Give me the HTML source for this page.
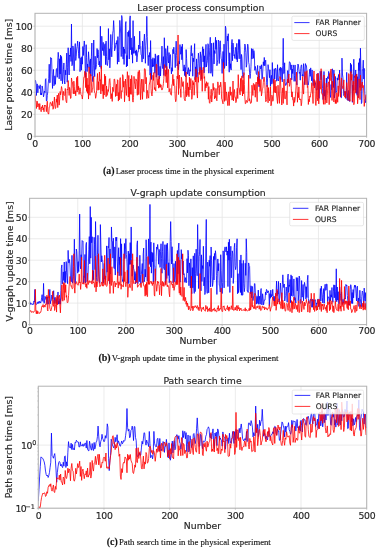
<!DOCTYPE html>
<html><head><meta charset="utf-8"><title>Figure</title><style>html,body{margin:0;padding:0;background:#fff;}svg{display:block;} svg text{stroke:#262626;stroke-width:0.15px;}</style></head><body>
<svg width="379" height="550" viewBox="0 0 379 550">
<rect width="379" height="550" fill="#fff"/>
<line x1="35.00" y1="13.3" x2="35.00" y2="136.3" stroke="#e6e6e6" stroke-width="0.8"/>
<line x1="82.37" y1="13.3" x2="82.37" y2="136.3" stroke="#e6e6e6" stroke-width="0.8"/>
<line x1="129.74" y1="13.3" x2="129.74" y2="136.3" stroke="#e6e6e6" stroke-width="0.8"/>
<line x1="177.11" y1="13.3" x2="177.11" y2="136.3" stroke="#e6e6e6" stroke-width="0.8"/>
<line x1="224.49" y1="13.3" x2="224.49" y2="136.3" stroke="#e6e6e6" stroke-width="0.8"/>
<line x1="271.86" y1="13.3" x2="271.86" y2="136.3" stroke="#e6e6e6" stroke-width="0.8"/>
<line x1="319.23" y1="13.3" x2="319.23" y2="136.3" stroke="#e6e6e6" stroke-width="0.8"/>
<line x1="366.60" y1="13.3" x2="366.60" y2="136.3" stroke="#e6e6e6" stroke-width="0.8"/>
<line x1="35.0" y1="136.30" x2="366.6" y2="136.30" stroke="#e6e6e6" stroke-width="0.8"/>
<line x1="35.0" y1="114.28" x2="366.6" y2="114.28" stroke="#e6e6e6" stroke-width="0.8"/>
<line x1="35.0" y1="92.26" x2="366.6" y2="92.26" stroke="#e6e6e6" stroke-width="0.8"/>
<line x1="35.0" y1="70.24" x2="366.6" y2="70.24" stroke="#e6e6e6" stroke-width="0.8"/>
<line x1="35.0" y1="48.22" x2="366.6" y2="48.22" stroke="#e6e6e6" stroke-width="0.8"/>
<line x1="35.0" y1="26.20" x2="366.6" y2="26.20" stroke="#e6e6e6" stroke-width="0.8"/>
<clipPath id="c1"><rect x="35.0" y="13.3" width="331.6" height="123.00000000000001"/></clipPath>
<g clip-path="url(#c1)" fill="none" stroke-width="0.8" stroke-linejoin="round">
<polyline points="35.00,83.72 35.47,80.27 35.95,82.74 36.42,95.49 36.89,83.96 37.37,84.05 37.84,92.81 38.32,86.13 38.79,85.78 39.26,86.22 39.74,88.70 40.21,84.80 40.68,94.90 41.16,93.01 41.63,95.02 42.11,85.95 42.58,88.27 43.05,92.06 43.53,96.81 44.00,94.33 44.47,91.03 44.95,92.59 45.42,79.59 45.90,78.66 46.37,100.85 46.84,100.97 47.32,95.37 47.79,91.83 48.26,83.13 48.74,78.69 49.21,64.23 49.69,82.91 50.16,82.59 50.63,57.48 51.11,58.67 51.58,58.19 52.05,74.32 52.53,88.43 53.00,75.37 53.47,69.42 53.95,85.79 54.42,84.30 54.90,75.82 55.37,84.35 55.84,76.17 56.32,69.57 56.79,68.49 57.26,77.29 57.74,60.93 58.21,52.31 58.69,57.68 59.16,78.90 59.63,58.82 60.11,74.07 60.58,54.99 61.05,80.84 61.53,56.45 62.00,64.41 62.48,83.74 62.95,77.99 63.42,69.69 63.90,62.98 64.37,80.32 64.84,84.00 65.32,70.18 65.79,74.93 66.27,64.66 66.74,53.10 67.21,82.19 67.69,67.58 68.16,47.76 68.63,63.08 69.11,74.98 69.58,55.03 70.05,56.30 70.53,47.94 71.00,61.46 71.48,24.00 71.95,65.73 72.42,64.76 72.90,45.95 73.37,49.07 73.84,70.33 74.32,70.83 74.79,48.92 75.27,43.57 75.74,60.51 76.21,56.58 76.69,48.76 77.16,46.30 77.63,41.04 78.11,46.62 78.58,53.77 79.06,58.36 79.53,41.89 80.00,71.65 80.48,64.57 80.95,57.72 81.42,70.21 81.90,56.71 82.37,64.18 82.85,46.53 83.32,55.54 83.79,47.41 84.27,40.95 84.74,47.22 85.21,68.57 85.69,77.37 86.16,44.67 86.63,57.67 87.11,71.62 87.58,63.96 88.06,67.36 88.53,51.77 89.00,59.30 89.48,62.01 89.95,73.55 90.42,58.92 90.90,76.16 91.37,56.73 91.85,43.00 92.32,76.39 92.79,81.67 93.27,65.70 93.74,40.00 94.21,65.99 94.69,76.66 95.16,56.23 95.64,69.40 96.11,67.66 96.58,64.26 97.06,48.46 97.53,57.81 98.00,49.79 98.48,54.68 98.95,65.00 99.43,61.31 99.90,67.00 100.37,26.20 100.85,67.48 101.32,68.81 101.79,36.22 102.27,47.03 102.74,50.74 103.21,42.33 103.69,55.16 104.16,55.68 104.64,44.72 105.11,43.70 105.58,64.65 106.06,41.08 106.53,56.70 107.00,65.23 107.48,65.52 107.95,60.50 108.43,28.55 108.90,59.83 109.37,48.79 109.85,67.89 110.32,57.61 110.79,34.48 111.27,46.87 111.74,56.83 112.22,45.22 112.69,33.23 113.16,30.53 113.64,20.58 114.11,29.91 114.58,50.84 115.06,48.80 115.53,47.03 116.01,42.90 116.48,44.14 116.95,40.42 117.43,64.20 117.90,36.62 118.37,51.79 118.85,61.97 119.32,37.81 119.79,20.36 120.27,25.93 120.74,33.96 121.22,56.59 121.69,15.53 122.16,18.34 122.64,54.46 123.11,59.09 123.58,46.92 124.06,64.49 124.53,49.20 125.01,53.51 125.48,24.11 125.95,21.57 126.43,66.95 126.90,55.50 127.37,66.06 127.85,32.08 128.32,36.53 128.80,30.62 129.27,59.04 129.74,19.23 130.22,15.92 130.69,49.85 131.16,37.90 131.64,54.57 132.11,47.51 132.59,63.16 133.06,20.62 133.53,53.35 134.01,52.05 134.48,36.32 134.95,53.35 135.43,50.98 135.90,55.49 136.37,49.81 136.85,61.92 137.32,57.17 137.80,51.65 138.27,51.89 138.74,45.00 139.22,49.14 139.69,31.18 140.16,45.39 140.64,46.16 141.11,54.95 141.59,55.15 142.06,62.08 142.53,40.99 143.01,59.11 143.48,58.61 143.95,41.33 144.43,34.10 144.90,46.84 145.38,63.31 145.85,45.39 146.32,37.60 146.80,16.29 147.27,36.67 147.74,55.79 148.22,65.62 148.69,55.35 149.17,57.05 149.64,52.50 150.11,75.14 150.59,40.57 151.06,64.69 151.53,79.48 152.01,59.19 152.48,66.90 152.95,57.75 153.43,66.47 153.90,64.41 154.38,58.44 154.85,73.21 155.32,53.87 155.80,68.11 156.27,77.19 156.74,66.40 157.22,55.63 157.69,64.24 158.17,75.33 158.64,55.11 159.11,79.21 159.59,77.82 160.06,66.38 160.53,75.97 161.01,65.15 161.48,61.12 161.96,46.10 162.43,66.97 162.90,68.73 163.38,56.61 163.85,75.51 164.32,37.72 164.80,57.72 165.27,67.70 165.75,48.57 166.22,55.59 166.69,74.39 167.17,56.36 167.64,45.82 168.11,60.80 168.59,63.00 169.06,52.55 169.53,68.56 170.01,55.38 170.48,54.59 170.96,66.51 171.43,73.90 171.90,67.69 172.38,71.24 172.85,49.38 173.32,53.80 173.80,47.18 174.27,53.22 174.75,53.54 175.22,67.58 175.69,52.57 176.17,41.17 176.64,55.44 177.11,65.96 177.59,63.52 178.06,66.75 178.54,69.78 179.01,61.24 179.48,64.05 179.96,44.56 180.43,54.25 180.90,53.77 181.38,46.66 181.85,59.78 182.33,44.14 182.80,63.12 183.27,71.09 183.75,68.75 184.22,64.86 184.69,75.65 185.17,67.42 185.64,77.01 186.11,49.56 186.59,58.57 187.06,69.22 187.54,74.15 188.01,70.83 188.48,67.67 188.96,75.23 189.43,76.00 189.90,69.72 190.38,71.28 190.85,51.56 191.33,45.53 191.80,55.86 192.27,53.45 192.75,76.24 193.22,58.05 193.69,61.73 194.17,55.11 194.64,43.66 195.12,79.92 195.59,66.86 196.06,77.03 196.54,58.90 197.01,77.37 197.48,74.20 197.96,63.28 198.43,53.15 198.91,58.17 199.38,72.33 199.85,72.86 200.33,51.89 200.80,58.78 201.27,78.96 201.75,55.97 202.22,53.32 202.69,46.68 203.17,61.86 203.64,48.88 204.12,72.86 204.59,55.83 205.06,67.25 205.54,52.04 206.01,44.36 206.48,66.91 206.96,63.44 207.43,60.80 207.91,43.71 208.38,44.77 208.85,73.20 209.33,57.11 209.80,47.45 210.27,37.31 210.75,73.26 211.22,71.55 211.70,43.17 212.17,73.22 212.64,76.34 213.12,57.46 213.59,42.76 214.06,63.97 214.54,50.64 215.01,53.50 215.49,37.24 215.96,49.29 216.43,40.38 216.91,65.76 217.38,62.45 217.85,59.82 218.33,40.03 218.80,41.83 219.27,63.54 219.75,46.54 220.22,40.79 220.70,52.22 221.17,58.41 221.64,59.00 222.12,73.42 222.59,59.97 223.06,51.43 223.54,65.65 224.01,44.16 224.49,68.47 224.96,65.19 225.43,26.20 225.91,28.52 226.38,65.93 226.85,47.01 227.33,36.10 227.80,40.91 228.28,33.74 228.75,61.68 229.22,72.20 229.70,52.80 230.17,68.48 230.64,63.71 231.12,70.07 231.59,44.27 232.07,39.44 232.54,60.75 233.01,43.10 233.49,49.39 233.96,55.74 234.43,54.68 234.91,58.57 235.38,47.36 235.85,48.76 236.33,59.44 236.80,43.37 237.28,62.00 237.75,54.49 238.22,50.46 238.70,39.44 239.17,58.86 239.64,39.60 240.12,48.89 240.59,59.46 241.07,69.62 241.54,54.42 242.01,58.23 242.49,74.74 242.96,77.74 243.43,74.97 243.91,75.22 244.38,50.85 244.86,44.05 245.33,46.04 245.80,52.38 246.28,67.22 246.75,64.51 247.22,52.02 247.70,44.14 248.17,46.68 248.65,62.44 249.12,64.43 249.59,72.89 250.07,78.49 250.54,73.55 251.01,66.36 251.49,48.53 251.96,59.05 252.43,50.69 252.91,48.81 253.38,58.35 253.86,50.59 254.33,54.03 254.80,70.29 255.28,66.38 255.75,68.94 256.22,73.51 256.70,74.57 257.17,70.36 257.65,65.38 258.12,81.09 258.59,75.37 259.07,86.94 259.54,75.72 260.01,65.89 260.49,68.91 260.96,68.38 261.44,64.78 261.91,79.23 262.38,78.42 262.86,68.90 263.33,61.80 263.80,65.51 264.28,57.45 264.75,65.83 265.23,62.04 265.70,60.16 266.17,70.58 266.65,82.53 267.12,86.86 267.59,78.12 268.07,64.64 268.54,68.69 269.01,71.13 269.49,77.73 269.96,69.78 270.44,86.38 270.91,78.14 271.38,75.29 271.86,84.12 272.33,62.55 272.80,81.08 273.28,83.01 273.75,83.43 274.23,68.71 274.70,79.15 275.17,70.06 275.65,68.13 276.12,69.92 276.59,81.22 277.07,80.35 277.54,64.69 278.02,79.92 278.49,80.94 278.96,77.56 279.44,68.57 279.91,70.13 280.38,67.16 280.86,79.53 281.33,68.28 281.81,67.77 282.28,81.88 282.75,65.46 283.23,38.31 283.70,73.67 284.17,73.30 284.65,62.81 285.12,82.43 285.59,85.44 286.07,85.16 286.54,82.97 287.02,81.74 287.49,70.86 287.96,70.53 288.44,82.87 288.91,71.94 289.38,61.73 289.86,62.13 290.33,62.94 290.81,69.71 291.28,64.88 291.75,79.82 292.23,69.06 292.70,73.56 293.17,64.90 293.65,67.16 294.12,81.37 294.60,75.62 295.07,64.94 295.54,80.94 296.02,81.06 296.49,82.33 296.96,84.92 297.44,70.67 297.91,64.02 298.39,64.98 298.86,69.14 299.33,73.45 299.81,72.11 300.28,80.18 300.75,68.59 301.23,65.14 301.70,64.93 302.17,76.07 302.65,74.50 303.12,76.26 303.60,63.64 304.07,68.83 304.54,84.72 305.02,75.88 305.49,63.59 305.96,65.66 306.44,65.65 306.91,71.40 307.39,85.03 307.86,85.49 308.33,85.17 308.81,80.83 309.28,74.32 309.75,69.16 310.23,76.32 310.70,67.87 311.18,75.30 311.65,80.85 312.12,69.93 312.60,80.98 313.07,85.63 313.54,85.17 314.02,79.41 314.49,85.64 314.97,83.89 315.44,82.59 315.91,88.06 316.39,90.29 316.86,89.19 317.33,89.59 317.81,73.25 318.28,76.97 318.75,97.19 319.23,98.33 319.70,82.91 320.18,71.22 320.65,76.16 321.12,79.78 321.60,71.13 322.07,79.99 322.54,88.59 323.02,99.52 323.49,96.81 323.97,71.47 324.44,96.17 324.91,90.09 325.39,99.88 325.86,90.98 326.33,78.03 326.81,87.32 327.28,78.70 327.76,76.70 328.23,78.72 328.70,71.39 329.18,73.68 329.65,85.90 330.12,94.42 330.60,97.44 331.07,84.54 331.55,89.78 332.02,69.13 332.49,68.91 332.97,78.74 333.44,87.58 333.91,70.13 334.39,97.93 334.86,94.52 335.33,76.45 335.81,92.71 336.28,92.36 336.76,90.87 337.23,77.85 337.70,80.20 338.18,77.51 338.65,74.45 339.12,80.01 339.60,70.07 340.07,87.50 340.55,96.23 341.02,97.43 341.49,97.69 341.97,58.13 342.44,74.02 342.91,77.51 343.39,88.89 343.86,95.61 344.34,93.37 344.81,91.32 345.28,92.44 345.76,98.43 346.23,94.68 346.70,72.36 347.18,99.81 347.65,93.75 348.13,100.78 348.60,90.49 349.07,94.97 349.55,101.42 350.02,91.83 350.49,63.08 350.97,73.21 351.44,64.62 351.91,77.28 352.39,102.33 352.86,85.05 353.34,90.44 353.81,59.23 354.28,77.52 354.76,76.21 355.23,90.10 355.70,69.97 356.18,93.45 356.65,74.28 357.13,95.34 357.60,76.66 358.07,97.54 358.55,62.74 359.02,70.39 359.49,58.56 359.97,87.50 360.44,48.22 360.92,68.50 361.39,103.55 361.86,102.31 362.34,70.98 362.81,68.49 363.28,60.18 363.76,79.07 364.23,68.40 364.71,90.01 365.18,100.66 365.65,102.69 366.13,98.03 366.60,94.77" stroke="#0000ff"/>
<polyline points="35.00,94.46 35.47,100.09 35.95,102.84 36.42,108.49 36.89,100.96 37.37,101.46 37.84,107.03 38.32,103.66 38.79,104.97 39.26,109.67 39.74,103.54 40.21,107.99 40.68,109.46 41.16,111.76 41.63,106.82 42.11,108.02 42.58,105.16 43.05,110.01 43.53,107.89 44.00,111.81 44.47,105.09 44.95,106.12 45.42,105.77 45.90,105.32 46.37,111.69 46.84,105.44 47.32,101.23 47.79,112.12 48.26,113.95 48.74,114.01 49.21,107.09 49.69,106.80 50.16,102.44 50.63,102.26 51.11,104.02 51.58,104.04 52.05,106.12 52.53,101.38 53.00,109.25 53.47,108.20 53.95,104.28 54.42,97.05 54.90,104.96 55.37,108.56 55.84,107.46 56.32,98.88 56.79,102.28 57.26,95.07 57.74,107.58 58.21,96.43 58.69,93.27 59.16,105.11 59.63,99.95 60.11,91.52 60.58,94.84 61.05,90.32 61.53,86.54 62.00,89.18 62.48,95.33 62.95,100.30 63.42,91.38 63.90,94.79 64.37,95.46 64.84,94.86 65.32,88.47 65.79,99.20 66.27,102.16 66.74,102.78 67.21,89.19 67.69,90.02 68.16,80.56 68.63,86.76 69.11,95.43 69.58,87.39 70.05,89.59 70.53,98.40 71.00,98.19 71.48,77.97 71.95,81.36 72.42,81.95 72.90,88.41 73.37,93.92 73.84,81.13 74.32,86.49 74.79,93.95 75.27,90.76 75.74,95.81 76.21,88.38 76.69,77.47 77.16,92.01 77.63,76.19 78.11,89.89 78.58,86.30 79.06,94.38 79.53,91.49 80.00,87.80 80.48,91.38 80.95,94.48 81.42,95.08 81.90,96.13 82.37,99.06 82.85,94.35 83.32,84.94 83.79,77.30 84.27,77.42 84.74,71.32 85.21,75.85 85.69,87.65 86.16,72.52 86.63,91.43 87.11,78.14 87.58,93.28 88.06,84.80 88.53,99.09 89.00,66.94 89.48,86.93 89.95,95.30 90.42,73.98 90.90,75.13 91.37,81.87 91.85,92.47 92.32,88.61 92.79,88.62 93.27,79.19 93.74,76.22 94.21,90.03 94.69,92.81 95.16,93.45 95.64,98.31 96.11,95.95 96.58,90.66 97.06,80.31 97.53,73.49 98.00,90.29 98.48,81.71 98.95,89.87 99.43,71.95 99.90,80.78 100.37,79.65 100.85,94.01 101.32,65.84 101.79,87.96 102.27,91.22 102.74,84.37 103.21,98.72 103.69,84.61 104.16,95.09 104.64,74.21 105.11,85.41 105.58,76.20 106.06,96.77 106.53,85.99 107.00,95.52 107.48,94.70 107.95,89.55 108.43,91.45 108.90,85.86 109.37,79.40 109.85,78.62 110.32,85.72 110.79,98.77 111.27,98.26 111.74,93.58 112.22,101.43 112.69,87.26 113.16,90.42 113.64,91.49 114.11,79.45 114.58,78.92 115.06,82.91 115.53,96.50 116.01,87.64 116.48,84.24 116.95,95.95 117.43,79.71 117.90,80.21 118.37,101.09 118.85,92.52 119.32,99.89 119.79,80.32 120.27,77.63 120.74,96.23 121.22,98.60 121.69,90.73 122.16,91.54 122.64,74.65 123.11,76.21 123.58,87.20 124.06,81.19 124.53,101.78 125.01,90.82 125.48,79.10 125.95,87.23 126.43,95.47 126.90,83.64 127.37,71.65 127.85,78.57 128.32,97.10 128.80,75.44 129.27,101.07 129.74,87.18 130.22,94.13 130.69,78.86 131.16,94.47 131.64,75.42 132.11,79.87 132.59,100.38 133.06,102.11 133.53,97.56 134.01,76.36 134.48,81.94 134.95,84.53 135.43,88.86 135.90,78.87 136.37,79.86 136.85,81.19 137.32,95.27 137.80,76.24 138.27,71.64 138.74,94.65 139.22,70.22 139.69,73.00 140.16,86.94 140.64,99.74 141.11,84.86 141.59,79.10 142.06,90.32 142.53,99.29 143.01,79.22 143.48,90.07 143.95,91.73 144.43,68.80 144.90,68.61 145.38,70.10 145.85,83.87 146.32,77.41 146.80,98.63 147.27,90.29 147.74,93.65 148.22,97.05 148.69,98.16 149.17,85.06 149.64,82.90 150.11,81.14 150.59,73.18 151.06,88.67 151.53,94.23 152.01,95.97 152.48,91.10 152.95,75.27 153.43,80.41 153.90,72.44 154.38,89.60 154.85,87.40 155.32,88.70 155.80,91.14 156.27,64.14 156.74,64.54 157.22,80.88 157.69,84.95 158.17,79.20 158.64,88.16 159.11,76.21 159.59,87.34 160.06,83.87 160.53,87.30 161.01,84.85 161.48,88.91 161.96,90.10 162.43,89.08 162.90,87.27 163.38,83.64 163.85,78.60 164.32,64.52 164.80,65.93 165.27,76.31 165.75,69.98 166.22,82.67 166.69,66.31 167.17,68.97 167.64,87.83 168.11,73.91 168.59,69.43 169.06,91.88 169.53,90.15 170.01,88.52 170.48,94.28 170.96,94.72 171.43,95.18 171.90,85.04 172.38,83.91 172.85,74.44 173.32,85.75 173.80,79.16 174.27,85.12 174.75,85.49 175.22,98.14 175.69,101.74 176.17,100.01 176.64,85.77 177.11,76.13 177.59,78.82 178.06,35.01 178.54,94.59 179.01,76.85 179.48,75.03 179.96,88.52 180.43,88.87 180.90,97.39 181.38,77.28 181.85,80.31 182.33,86.50 182.80,83.04 183.27,81.62 183.75,90.18 184.22,98.56 184.69,99.86 185.17,100.85 185.64,89.49 186.11,71.88 186.59,96.73 187.06,88.82 187.54,82.77 188.01,95.27 188.48,87.20 188.96,96.74 189.43,77.20 189.90,89.92 190.38,86.11 190.85,78.49 191.33,88.44 191.80,99.32 192.27,96.05 192.75,80.58 193.22,84.93 193.69,82.52 194.17,95.20 194.64,87.00 195.12,77.36 195.59,82.01 196.06,68.90 196.54,79.92 197.01,93.71 197.48,98.05 197.96,77.13 198.43,82.28 198.91,72.35 199.38,74.58 199.85,67.50 200.33,67.39 200.80,80.65 201.27,78.61 201.75,70.03 202.22,91.33 202.69,69.58 203.17,67.11 203.64,67.47 204.12,78.46 204.59,76.63 205.06,91.19 205.54,83.62 206.01,87.89 206.48,81.67 206.96,86.19 207.43,84.71 207.91,82.65 208.38,99.23 208.85,86.55 209.33,102.44 209.80,103.32 210.27,99.33 210.75,94.65 211.22,89.18 211.70,102.04 212.17,96.80 212.64,92.79 213.12,83.30 213.59,90.28 214.06,87.53 214.54,98.94 215.01,96.37 215.49,97.54 215.96,88.41 216.43,99.35 216.91,100.78 217.38,90.93 217.85,81.89 218.33,85.80 218.80,88.38 219.27,94.78 219.75,85.44 220.22,86.67 220.70,82.10 221.17,86.31 221.64,98.92 222.12,99.71 222.59,102.29 223.06,103.86 223.54,62.53 224.01,84.81 224.49,101.38 224.96,82.04 225.43,87.05 225.91,100.55 226.38,91.92 226.85,93.63 227.33,100.40 227.80,105.63 228.28,98.86 228.75,91.75 229.22,105.57 229.70,94.69 230.17,86.82 230.64,95.34 231.12,91.91 231.59,94.79 232.07,100.13 232.54,97.85 233.01,81.01 233.49,100.90 233.96,92.25 234.43,89.49 234.91,97.40 235.38,97.17 235.85,102.67 236.33,101.64 236.80,94.66 237.28,88.26 237.75,98.56 238.22,74.65 238.70,87.30 239.17,87.89 239.64,92.00 240.12,94.91 240.59,78.47 241.07,91.34 241.54,77.31 242.01,75.87 242.49,95.99 242.96,80.18 243.43,93.90 243.91,72.58 244.38,84.56 244.86,97.90 245.33,103.78 245.80,103.41 246.28,100.33 246.75,101.35 247.22,102.55 247.70,100.41 248.17,95.15 248.65,75.02 249.12,101.12 249.59,98.68 250.07,100.75 250.54,103.38 251.01,103.28 251.49,102.01 251.96,85.20 252.43,90.13 252.91,95.51 253.38,83.42 253.86,83.80 254.33,90.20 254.80,84.61 255.28,97.24 255.75,84.03 256.22,82.01 256.70,92.09 257.17,101.68 257.65,76.97 258.12,84.02 258.59,71.52 259.07,85.72 259.54,78.80 260.01,91.41 260.49,87.02 260.96,79.40 261.44,95.90 261.91,92.90 262.38,88.77 262.86,88.13 263.33,82.29 263.80,77.08 264.28,77.27 264.75,82.62 265.23,92.06 265.70,101.78 266.17,101.24 266.65,99.50 267.12,85.11 267.59,93.19 268.07,102.77 268.54,87.59 269.01,98.64 269.49,100.80 269.96,96.64 270.44,86.77 270.91,105.80 271.38,105.00 271.86,95.16 272.33,96.37 272.80,101.26 273.28,100.01 273.75,78.90 274.23,92.44 274.70,83.16 275.17,80.18 275.65,92.94 276.12,86.25 276.59,94.98 277.07,98.94 277.54,103.50 278.02,85.21 278.49,94.02 278.96,98.09 279.44,103.36 279.91,76.61 280.38,78.21 280.86,88.06 281.33,98.01 281.81,105.01 282.28,93.44 282.75,87.86 283.23,103.45 283.70,81.52 284.17,79.11 284.65,98.22 285.12,99.10 285.59,98.11 286.07,90.88 286.54,92.37 287.02,104.87 287.49,79.06 287.96,82.76 288.44,75.39 288.91,74.09 289.38,86.37 289.86,84.67 290.33,79.74 290.81,78.15 291.28,88.20 291.75,97.06 292.23,91.80 292.70,99.71 293.17,99.38 293.65,106.08 294.12,97.23 294.60,102.49 295.07,100.31 295.54,94.03 296.02,86.93 296.49,72.13 296.96,79.83 297.44,102.25 297.91,92.58 298.39,97.77 298.86,86.91 299.33,97.34 299.81,100.01 300.28,98.91 300.75,99.67 301.23,105.79 301.70,102.93 302.17,94.64 302.65,76.36 303.12,88.91 303.60,94.08 304.07,82.93 304.54,80.31 305.02,71.53 305.49,75.63 305.96,84.78 306.44,73.22 306.91,70.73 307.39,87.49 307.86,86.36 308.33,104.49 308.81,99.36 309.28,101.78 309.75,96.17 310.23,97.21 310.70,93.72 311.18,91.72 311.65,82.81 312.12,83.71 312.60,94.82 313.07,103.53 313.54,77.94 314.02,71.00 314.49,87.97 314.97,80.62 315.44,103.12 315.91,105.51 316.39,99.30 316.86,73.88 317.33,97.47 317.81,100.92 318.28,73.30 318.75,103.93 319.23,85.91 319.70,81.15 320.18,89.29 320.65,86.22 321.12,68.70 321.60,93.17 322.07,94.31 322.54,93.68 323.02,98.76 323.49,104.29 323.97,75.02 324.44,81.20 324.91,104.34 325.39,102.05 325.86,88.12 326.33,83.06 326.81,102.94 327.28,95.32 327.76,87.28 328.23,83.01 328.70,81.78 329.18,104.65 329.65,73.47 330.12,80.67 330.60,70.39 331.07,68.96 331.55,77.71 332.02,100.46 332.49,81.28 332.97,89.14 333.44,95.04 333.91,102.03 334.39,73.77 334.86,89.64 335.33,103.53 335.81,99.60 336.28,103.57 336.76,92.73 337.23,95.65 337.70,102.32 338.18,85.86 338.65,96.51 339.12,81.78 339.60,73.41 340.07,88.29 340.55,97.16 341.02,89.07 341.49,77.94 341.97,85.62 342.44,86.26 342.91,88.74 343.39,84.90 343.86,79.88 344.34,95.63 344.81,97.25 345.28,91.29 345.76,98.12 346.23,90.39 346.70,82.55 347.18,87.59 347.65,96.56 348.13,100.40 348.60,73.60 349.07,74.60 349.55,98.32 350.02,101.33 350.49,73.19 350.97,71.50 351.44,80.23 351.91,74.35 352.39,101.47 352.86,93.73 353.34,81.19 353.81,104.72 354.28,102.90 354.76,84.29 355.23,75.38 355.70,92.69 356.18,87.11 356.65,73.93 357.13,89.02 357.60,103.79 358.07,96.61 358.55,97.69 359.02,78.87 359.49,85.56 359.97,99.57 360.44,75.14 360.92,90.53 361.39,86.50 361.86,83.52 362.34,82.03 362.81,87.79 363.28,85.43 363.76,92.19 364.23,106.41 364.71,101.33 365.18,99.08 365.65,98.29 366.13,94.67 366.60,101.91" stroke="#ff0000"/>
</g>
<rect x="35.0" y="13.3" width="331.6" height="123.00000000000001" fill="none" stroke="#b3b3b3" stroke-width="1"/>
<line x1="35.00" y1="136.3" x2="35.00" y2="137.8" stroke="#b3b3b3" stroke-width="0.8"/>
<text x="35.15" y="146.90" font-size="9.3" text-anchor="middle" font-family="'DejaVu Sans', 'Liberation Sans', sans-serif" fill="#262626" letter-spacing="-0.3">0</text>
<line x1="82.37" y1="136.3" x2="82.37" y2="137.8" stroke="#b3b3b3" stroke-width="0.8"/>
<text x="82.52" y="146.90" font-size="9.3" text-anchor="middle" font-family="'DejaVu Sans', 'Liberation Sans', sans-serif" fill="#262626" letter-spacing="-0.3">100</text>
<line x1="129.74" y1="136.3" x2="129.74" y2="137.8" stroke="#b3b3b3" stroke-width="0.8"/>
<text x="129.89" y="146.90" font-size="9.3" text-anchor="middle" font-family="'DejaVu Sans', 'Liberation Sans', sans-serif" fill="#262626" letter-spacing="-0.3">200</text>
<line x1="177.11" y1="136.3" x2="177.11" y2="137.8" stroke="#b3b3b3" stroke-width="0.8"/>
<text x="177.26" y="146.90" font-size="9.3" text-anchor="middle" font-family="'DejaVu Sans', 'Liberation Sans', sans-serif" fill="#262626" letter-spacing="-0.3">300</text>
<line x1="224.49" y1="136.3" x2="224.49" y2="137.8" stroke="#b3b3b3" stroke-width="0.8"/>
<text x="224.64" y="146.90" font-size="9.3" text-anchor="middle" font-family="'DejaVu Sans', 'Liberation Sans', sans-serif" fill="#262626" letter-spacing="-0.3">400</text>
<line x1="271.86" y1="136.3" x2="271.86" y2="137.8" stroke="#b3b3b3" stroke-width="0.8"/>
<text x="272.01" y="146.90" font-size="9.3" text-anchor="middle" font-family="'DejaVu Sans', 'Liberation Sans', sans-serif" fill="#262626" letter-spacing="-0.3">500</text>
<line x1="319.23" y1="136.3" x2="319.23" y2="137.8" stroke="#b3b3b3" stroke-width="0.8"/>
<text x="319.38" y="146.90" font-size="9.3" text-anchor="middle" font-family="'DejaVu Sans', 'Liberation Sans', sans-serif" fill="#262626" letter-spacing="-0.3">600</text>
<line x1="366.60" y1="136.3" x2="366.60" y2="137.8" stroke="#b3b3b3" stroke-width="0.8"/>
<text x="366.75" y="146.90" font-size="9.3" text-anchor="middle" font-family="'DejaVu Sans', 'Liberation Sans', sans-serif" fill="#262626" letter-spacing="-0.3">700</text>
<line x1="33.5" y1="136.30" x2="35.0" y2="136.30" stroke="#b3b3b3" stroke-width="0.8"/>
<text x="32.3" y="139.70" font-size="9.3" text-anchor="end" font-family="'DejaVu Sans', 'Liberation Sans', sans-serif" fill="#262626" letter-spacing="-0.3">0</text>
<line x1="33.5" y1="114.28" x2="35.0" y2="114.28" stroke="#b3b3b3" stroke-width="0.8"/>
<text x="32.3" y="117.68" font-size="9.3" text-anchor="end" font-family="'DejaVu Sans', 'Liberation Sans', sans-serif" fill="#262626" letter-spacing="-0.3">20</text>
<line x1="33.5" y1="92.26" x2="35.0" y2="92.26" stroke="#b3b3b3" stroke-width="0.8"/>
<text x="32.3" y="95.66" font-size="9.3" text-anchor="end" font-family="'DejaVu Sans', 'Liberation Sans', sans-serif" fill="#262626" letter-spacing="-0.3">40</text>
<line x1="33.5" y1="70.24" x2="35.0" y2="70.24" stroke="#b3b3b3" stroke-width="0.8"/>
<text x="32.3" y="73.64" font-size="9.3" text-anchor="end" font-family="'DejaVu Sans', 'Liberation Sans', sans-serif" fill="#262626" letter-spacing="-0.3">60</text>
<line x1="33.5" y1="48.22" x2="35.0" y2="48.22" stroke="#b3b3b3" stroke-width="0.8"/>
<text x="32.3" y="51.62" font-size="9.3" text-anchor="end" font-family="'DejaVu Sans', 'Liberation Sans', sans-serif" fill="#262626" letter-spacing="-0.3">80</text>
<line x1="33.5" y1="26.20" x2="35.0" y2="26.20" stroke="#b3b3b3" stroke-width="0.8"/>
<text x="32.3" y="29.60" font-size="9.3" text-anchor="end" font-family="'DejaVu Sans', 'Liberation Sans', sans-serif" fill="#262626" letter-spacing="-0.3">100</text>
<text x="200.80" y="10.70" font-size="9.3" text-anchor="middle" font-family="'DejaVu Sans', 'Liberation Sans', sans-serif" fill="#262626" >Laser process consumption</text>
<text x="200.80" y="156.90" font-size="9.3" text-anchor="middle" font-family="'DejaVu Sans', 'Liberation Sans', sans-serif" fill="#262626" >Number</text>
<text x="0" y="0" font-size="9.3" text-anchor="middle" font-family="'DejaVu Sans', 'Liberation Sans', sans-serif" fill="#262626" transform="translate(12.00,74.80) rotate(-90)">Laser process time [ms]</text>
<rect x="291.9" y="16.2" width="72.40000000000003" height="24.2" rx="1.5" fill="#ffffff" fill-opacity="0.8" stroke="#d9d9d9" stroke-width="0.6"/>
<line x1="294.3" y1="22.6" x2="309.5" y2="22.6" stroke="#0000ff" stroke-width="0.8"/>
<line x1="294.3" y1="33.6" x2="309.5" y2="33.6" stroke="#ff0000" stroke-width="0.8"/>
<text x="315.60" y="25.40" font-size="7.6" text-anchor="start" font-family="'DejaVu Sans', 'Liberation Sans', sans-serif" fill="#262626" >FAR Planner</text>
<text x="315.60" y="36.40" font-size="7.6" text-anchor="start" font-family="'DejaVu Sans', 'Liberation Sans', sans-serif" fill="#262626" >OURS</text>
<text x="103.00" y="173.50" font-size="9.1" text-anchor="start" font-family="'Liberation Serif', serif" fill="#111" textLength="171.2" lengthAdjust="spacingAndGlyphs"><tspan font-weight="bold" font-size="10.4">(a)</tspan><tspan dx="1.2">Laser process time in the physical experiment</tspan></text>
<line x1="29.60" y1="198.3" x2="29.60" y2="324.6" stroke="#e6e6e6" stroke-width="0.8"/>
<line x1="77.74" y1="198.3" x2="77.74" y2="324.6" stroke="#e6e6e6" stroke-width="0.8"/>
<line x1="125.89" y1="198.3" x2="125.89" y2="324.6" stroke="#e6e6e6" stroke-width="0.8"/>
<line x1="174.03" y1="198.3" x2="174.03" y2="324.6" stroke="#e6e6e6" stroke-width="0.8"/>
<line x1="222.17" y1="198.3" x2="222.17" y2="324.6" stroke="#e6e6e6" stroke-width="0.8"/>
<line x1="270.31" y1="198.3" x2="270.31" y2="324.6" stroke="#e6e6e6" stroke-width="0.8"/>
<line x1="318.46" y1="198.3" x2="318.46" y2="324.6" stroke="#e6e6e6" stroke-width="0.8"/>
<line x1="366.60" y1="198.3" x2="366.60" y2="324.6" stroke="#e6e6e6" stroke-width="0.8"/>
<line x1="29.6" y1="324.60" x2="366.6" y2="324.60" stroke="#e6e6e6" stroke-width="0.8"/>
<line x1="29.6" y1="303.14" x2="366.6" y2="303.14" stroke="#e6e6e6" stroke-width="0.8"/>
<line x1="29.6" y1="281.68" x2="366.6" y2="281.68" stroke="#e6e6e6" stroke-width="0.8"/>
<line x1="29.6" y1="260.22" x2="366.6" y2="260.22" stroke="#e6e6e6" stroke-width="0.8"/>
<line x1="29.6" y1="238.76" x2="366.6" y2="238.76" stroke="#e6e6e6" stroke-width="0.8"/>
<line x1="29.6" y1="217.30" x2="366.6" y2="217.30" stroke="#e6e6e6" stroke-width="0.8"/>
<clipPath id="c2"><rect x="29.6" y="198.3" width="337.0" height="126.30000000000001"/></clipPath>
<g clip-path="url(#c2)" fill="none" stroke-width="0.8" stroke-linejoin="round">
<polyline points="29.60,301.02 30.08,304.64 30.56,302.82 31.04,304.06 31.53,304.01 32.01,303.65 32.49,304.64 32.97,303.91 33.45,304.39 33.93,300.99 34.41,302.14 34.90,289.41 35.38,303.73 35.86,304.22 36.34,304.50 36.82,304.00 37.30,302.35 37.78,303.53 38.27,301.57 38.75,303.38 39.23,303.15 39.71,301.13 40.19,301.89 40.67,303.09 41.15,301.42 41.64,297.72 42.12,294.65 42.60,300.69 43.08,301.53 43.56,283.40 44.04,303.30 44.52,302.03 45.01,296.39 45.49,297.07 45.97,299.53 46.45,296.99 46.93,304.21 47.41,296.75 47.89,303.50 48.38,304.17 48.86,299.82 49.34,296.89 49.82,289.41 50.30,303.83 50.78,300.76 51.26,300.64 51.75,295.09 52.23,296.25 52.71,298.88 53.19,295.55 53.67,290.69 54.15,303.58 54.63,297.85 55.12,297.21 55.60,301.08 56.08,303.32 56.56,299.57 57.04,304.21 57.52,298.08 58.00,291.98 58.49,304.13 58.97,300.82 59.45,303.65 59.93,298.68 60.41,304.20 60.89,290.44 61.37,268.25 61.86,264.92 62.34,283.80 62.82,281.32 63.30,271.93 63.78,280.48 64.26,262.01 64.74,282.69 65.23,271.36 65.71,282.61 66.19,261.59 66.67,272.71 67.15,278.18 67.63,283.71 68.11,250.35 68.60,262.70 69.08,262.97 69.56,259.51 70.04,266.02 70.52,279.68 71.00,281.53 71.48,281.62 71.97,255.34 72.45,283.18 72.93,280.32 73.41,276.61 73.89,266.78 74.37,239.19 74.85,282.69 75.34,283.71 75.82,272.35 76.30,249.04 76.78,251.71 77.26,261.34 77.74,273.15 78.22,261.53 78.71,271.63 79.19,250.83 79.67,214.08 80.15,265.37 80.63,268.87 81.11,254.69 81.59,260.02 82.08,240.58 82.56,241.12 83.04,241.10 83.52,283.14 84.00,275.87 84.48,277.61 84.96,254.48 85.45,283.05 85.93,245.19 86.41,242.42 86.89,281.49 87.37,281.00 87.85,279.68 88.33,265.51 88.82,249.22 89.30,236.60 89.78,263.83 90.26,206.57 90.74,258.17 91.22,217.30 91.70,242.80 92.19,236.78 92.67,280.59 93.15,270.90 93.63,279.77 94.11,237.27 94.59,244.89 95.07,269.63 95.56,221.59 96.04,252.92 96.52,277.62 97.00,281.13 97.48,254.42 97.96,235.28 98.44,264.23 98.93,276.15 99.41,282.45 99.89,283.18 100.37,224.60 100.85,243.99 101.33,261.98 101.81,255.74 102.30,260.70 102.78,260.63 103.26,283.29 103.74,277.05 104.22,263.36 104.70,279.22 105.18,276.25 105.67,280.20 106.15,274.01 106.63,245.91 107.11,272.19 107.59,269.23 108.07,246.34 108.55,247.70 109.04,237.53 109.52,283.71 110.00,248.95 110.48,274.01 110.96,262.60 111.44,226.96 111.92,241.32 112.41,241.47 112.89,258.17 113.37,238.20 113.85,267.84 114.33,268.62 114.81,246.88 115.29,275.07 115.78,237.27 116.26,240.92 116.74,237.18 117.22,259.99 117.70,273.10 118.18,261.83 118.66,247.70 119.15,275.76 119.63,256.95 120.11,264.72 120.59,238.65 121.07,275.59 121.55,243.84 122.03,276.29 122.52,281.38 123.00,279.69 123.48,282.68 123.96,264.73 124.44,243.48 124.92,258.60 125.40,249.85 125.89,238.63 126.37,254.50 126.85,259.36 127.33,270.98 127.81,283.49 128.29,251.09 128.77,283.56 129.26,253.61 129.74,264.50 130.22,242.61 130.70,264.25 131.18,226.96 131.66,258.59 132.14,276.20 132.63,270.71 133.11,264.95 133.59,268.50 134.07,270.04 134.55,280.14 135.03,271.58 135.51,283.79 136.00,273.53 136.48,282.56 136.96,244.54 137.44,240.85 137.92,283.66 138.40,266.37 138.88,268.54 139.37,281.71 139.85,255.28 140.33,274.40 140.81,283.66 141.29,274.90 141.77,269.97 142.25,263.50 142.74,282.52 143.22,253.87 143.70,248.09 144.18,281.77 144.66,279.32 145.14,269.24 145.62,277.04 146.11,239.73 146.59,256.64 147.07,281.17 147.55,280.48 148.03,269.06 148.51,238.89 148.99,264.56 149.48,263.08 149.96,204.42 150.44,266.75 150.92,242.08 151.40,273.15 151.88,251.94 152.36,261.78 152.85,253.12 153.33,282.15 153.81,242.85 154.29,265.93 154.77,266.04 155.25,281.05 155.73,280.17 156.22,256.13 156.70,246.98 157.18,249.31 157.66,244.44 158.14,249.44 158.62,264.23 159.10,249.32 159.59,252.10 160.07,267.45 160.55,251.26 161.03,243.75 161.51,258.27 161.99,273.23 162.47,251.78 162.96,241.42 163.44,266.92 163.92,268.66 164.40,269.73 164.88,244.68 165.36,283.44 165.84,262.05 166.33,244.63 166.81,278.49 167.29,243.13 167.77,251.76 168.25,275.54 168.73,262.76 169.21,282.78 169.70,278.48 170.18,241.76 170.66,221.59 171.14,241.71 171.62,263.96 172.10,246.72 172.58,262.80 173.07,282.78 173.55,278.88 174.03,263.55 174.51,281.22 174.99,282.20 175.47,261.22 175.95,277.12 176.44,282.57 176.92,279.50 177.40,250.45 177.88,273.88 178.36,248.80 178.84,243.06 179.32,262.13 179.81,281.12 180.29,282.12 180.77,269.88 181.25,249.64 181.73,258.87 182.21,254.39 182.69,273.87 183.18,261.00 183.66,274.85 184.14,273.69 184.62,281.93 185.10,282.53 185.58,277.63 186.06,281.43 186.55,282.61 187.03,258.68 187.51,272.89 187.99,250.22 188.47,255.34 188.95,285.72 189.43,262.90 189.92,268.29 190.40,287.89 190.88,258.87 191.36,288.58 191.84,293.70 192.32,267.65 192.80,287.92 193.29,255.85 193.77,287.43 194.25,293.38 194.73,253.29 195.21,291.62 195.69,273.30 196.17,249.18 196.66,268.10 197.14,275.77 197.62,224.60 198.10,251.49 198.58,288.56 199.06,256.50 199.54,254.34 200.03,239.44 200.51,275.23 200.99,290.90 201.47,254.85 201.95,281.46 202.43,265.60 202.91,268.56 203.40,246.24 203.88,285.86 204.36,277.30 204.84,294.55 205.32,292.67 205.80,245.37 206.28,219.45 206.77,289.33 207.25,293.38 207.73,262.12 208.21,268.29 208.69,292.84 209.17,260.22 209.65,266.29 210.14,255.64 210.62,286.90 211.10,246.99 211.58,260.57 212.06,276.67 212.54,286.47 213.02,282.29 213.51,256.42 213.99,280.04 214.47,253.48 214.95,259.70 215.43,250.72 215.91,255.59 216.39,275.42 216.88,294.44 217.36,273.85 217.84,258.93 218.32,270.88 218.80,263.45 219.28,285.34 219.76,285.54 220.25,292.07 220.73,254.69 221.21,270.81 221.69,286.14 222.17,293.51 222.65,282.47 223.13,250.84 223.62,260.94 224.10,287.86 224.58,248.88 225.06,246.90 225.54,249.47 226.02,252.02 226.50,246.84 226.99,255.20 227.47,251.03 227.95,286.57 228.43,242.26 228.91,260.21 229.39,239.28 229.87,292.47 230.36,256.61 230.84,246.22 231.32,277.82 231.80,259.44 232.28,250.83 232.76,253.89 233.24,283.48 233.73,277.16 234.21,247.56 234.69,243.31 235.17,265.65 235.65,269.69 236.13,266.64 236.61,247.28 237.10,238.76 237.58,293.75 238.06,273.65 238.54,292.63 239.02,288.67 239.50,273.04 239.98,259.97 240.47,292.52 240.95,254.95 241.43,295.21 241.91,263.41 242.39,295.21 242.87,295.07 243.35,260.41 243.84,283.65 244.32,291.68 244.80,287.36 245.28,263.22 245.76,275.41 246.24,238.76 246.72,252.53 247.21,291.06 247.69,290.87 248.17,292.50 248.65,262.93 249.13,265.81 249.61,266.53 250.09,287.31 250.58,293.76 251.06,285.80 251.54,297.87 252.02,286.51 252.50,286.68 252.98,300.59 253.46,296.78 253.95,296.80 254.43,283.76 254.91,283.55 255.39,293.94 255.87,295.65 256.35,304.09 256.83,296.44 257.32,296.50 257.80,303.49 258.28,290.08 258.76,304.31 259.24,300.27 259.72,296.12 260.20,304.28 260.69,290.63 261.17,288.50 261.65,304.61 262.13,304.96 262.61,293.75 263.09,298.02 263.57,304.87 264.06,301.84 264.54,299.91 265.02,300.11 265.50,292.09 265.98,294.87 266.46,289.39 266.94,289.94 267.43,292.77 267.91,291.41 268.39,290.84 268.87,293.29 269.35,305.69 269.83,293.65 270.31,298.30 270.80,290.13 271.28,297.10 271.76,294.51 272.24,295.75 272.72,289.41 273.20,295.81 273.68,300.78 274.17,296.14 274.65,301.86 275.13,297.41 275.61,298.35 276.09,293.67 276.57,281.08 277.05,295.82 277.54,291.01 278.02,294.18 278.50,281.40 278.98,301.97 279.46,300.46 279.94,293.06 280.42,283.00 280.91,291.14 281.39,297.89 281.87,301.12 282.35,284.67 282.83,274.83 283.31,283.91 283.79,287.54 284.28,283.97 284.76,301.01 285.24,296.80 285.72,295.66 286.20,287.08 286.68,291.34 287.16,302.27 287.65,277.63 288.13,274.06 288.61,292.53 289.09,285.12 289.57,286.42 290.05,279.46 290.53,302.65 291.02,274.87 291.50,295.82 291.98,275.99 292.46,288.04 292.94,296.42 293.42,293.89 293.90,278.91 294.39,300.29 294.87,297.48 295.35,298.28 295.83,303.02 296.31,277.52 296.79,281.72 297.27,291.03 297.76,277.64 298.24,300.81 298.72,294.16 299.20,276.02 299.68,278.31 300.16,303.11 300.64,303.14 301.13,302.69 301.61,280.56 302.09,297.17 302.57,295.78 303.05,284.50 303.53,300.88 304.01,290.80 304.50,282.40 304.98,285.36 305.46,286.68 305.94,299.10 306.42,286.77 306.90,297.53 307.38,279.93 307.87,275.24 308.35,298.48 308.83,303.12 309.31,303.27 309.79,302.38 310.27,299.34 310.75,299.10 311.24,306.65 311.72,307.10 312.20,299.11 312.68,307.29 313.16,299.57 313.64,304.61 314.12,300.37 314.61,300.26 315.09,300.00 315.57,299.83 316.05,307.17 316.53,302.92 317.01,303.81 317.49,302.38 317.98,298.95 318.46,304.69 318.94,306.81 319.42,304.18 319.90,298.93 320.38,288.47 320.86,301.18 321.35,286.09 321.83,291.36 322.31,297.31 322.79,302.98 323.27,294.40 323.75,288.62 324.23,303.34 324.72,286.45 325.20,284.23 325.68,290.34 326.16,290.07 326.64,283.86 327.12,284.71 327.60,301.65 328.09,296.68 328.57,297.44 329.05,297.47 329.53,303.84 330.01,290.39 330.49,300.92 330.97,294.75 331.46,297.18 331.94,287.56 332.42,298.05 332.90,302.31 333.38,291.15 333.86,284.81 334.34,297.81 334.83,285.09 335.31,291.75 335.79,300.62 336.27,268.80 336.75,301.83 337.23,287.03 337.71,300.05 338.20,291.70 338.68,303.86 339.16,303.27 339.64,286.91 340.12,293.11 340.60,295.56 341.08,300.48 341.57,291.87 342.05,304.36 342.53,304.25 343.01,299.30 343.49,303.21 343.97,302.91 344.45,298.07 344.94,298.11 345.42,298.99 345.90,284.43 346.38,285.85 346.86,285.16 347.34,295.39 347.82,301.35 348.31,304.97 348.79,301.44 349.27,305.27 349.75,303.38 350.23,289.46 350.71,284.71 351.19,286.52 351.68,303.45 352.16,292.53 352.64,303.59 353.12,289.55 353.60,297.89 354.08,288.93 354.56,285.15 355.05,287.18 355.53,285.41 356.01,293.29 356.49,300.93 356.97,287.18 357.45,286.16 357.93,301.90 358.42,297.97 358.90,306.41 359.38,301.93 359.86,290.26 360.34,298.77 360.82,303.88 361.30,306.81 361.79,296.64 362.27,291.06 362.75,292.29 363.23,295.85 363.71,306.89 364.19,288.09 364.67,298.44 365.16,301.02 365.64,292.60 366.12,307.77 366.60,302.58" stroke="#0000ff"/>
<polyline points="29.60,312.02 30.08,311.76 30.56,310.56 31.04,310.80 31.53,312.41 32.01,311.75 32.49,312.04 32.97,311.50 33.45,312.46 33.93,311.58 34.41,311.33 34.90,310.56 35.38,289.41 35.86,311.27 36.34,313.75 36.82,310.53 37.30,313.84 37.78,311.23 38.27,312.50 38.75,313.41 39.23,313.34 39.71,313.34 40.19,311.96 40.67,312.36 41.15,310.71 41.64,307.16 42.12,305.88 42.60,306.72 43.08,304.51 43.56,307.33 44.04,306.48 44.52,305.30 45.01,307.13 45.49,304.37 45.97,304.90 46.45,299.84 46.93,295.23 47.41,309.70 47.89,310.96 48.38,289.41 48.86,298.18 49.34,296.18 49.82,308.01 50.30,309.46 50.78,310.92 51.26,309.88 51.75,307.05 52.23,305.52 52.71,291.34 53.19,304.58 53.67,306.36 54.15,300.27 54.63,310.53 55.12,308.25 55.60,304.52 56.08,297.59 56.56,312.08 57.04,295.39 57.52,304.77 58.00,302.41 58.49,296.81 58.97,297.06 59.45,295.00 59.93,306.31 60.41,312.85 60.89,301.15 61.37,299.25 61.86,285.05 62.34,296.95 62.82,301.23 63.30,282.55 63.78,290.58 64.26,300.29 64.74,282.87 65.23,292.45 65.71,284.88 66.19,297.29 66.67,295.46 67.15,302.24 67.63,302.85 68.11,301.41 68.60,295.40 69.08,286.80 69.56,281.23 70.04,276.46 70.52,282.21 71.00,286.26 71.48,285.66 71.97,288.57 72.45,288.78 72.93,287.98 73.41,266.58 73.89,253.78 74.37,287.14 74.85,293.15 75.34,283.62 75.82,284.04 76.30,281.64 76.78,282.54 77.26,284.43 77.74,285.02 78.22,285.22 78.71,281.87 79.19,274.07 79.67,283.02 80.15,282.15 80.63,289.43 81.11,283.37 81.59,257.26 82.08,281.80 82.56,283.75 83.04,283.94 83.52,282.76 84.00,284.32 84.48,260.47 84.96,281.68 85.45,283.61 85.93,287.10 86.41,283.82 86.89,288.30 87.37,273.11 87.85,284.36 88.33,284.44 88.82,280.71 89.30,280.65 89.78,282.75 90.26,282.46 90.74,281.51 91.22,280.84 91.70,283.81 92.19,284.02 92.67,270.10 93.15,283.03 93.63,282.19 94.11,282.36 94.59,287.18 95.07,287.31 95.56,256.21 96.04,291.84 96.52,281.59 97.00,286.91 97.48,281.78 97.96,281.53 98.44,253.78 98.93,274.19 99.41,284.23 99.89,286.78 100.37,285.80 100.85,284.89 101.33,282.80 101.81,282.05 102.30,286.06 102.78,268.82 103.26,286.23 103.74,285.31 104.22,283.52 104.70,255.29 105.18,284.77 105.67,275.86 106.15,285.84 106.63,286.44 107.11,285.42 107.59,282.05 108.07,258.07 108.55,280.83 109.04,273.95 109.52,264.08 110.00,293.47 110.48,253.78 110.96,283.53 111.44,285.47 111.92,266.74 112.41,281.68 112.89,281.55 113.37,293.35 113.85,282.76 114.33,281.21 114.81,281.74 115.29,286.92 115.78,282.90 116.26,283.65 116.74,284.61 117.22,282.50 117.70,271.82 118.18,288.10 118.66,282.08 119.15,281.69 119.63,284.15 120.11,285.47 120.59,257.71 121.07,289.30 121.55,284.37 122.03,285.14 122.52,285.62 123.00,286.95 123.48,286.73 123.96,253.78 124.44,281.48 124.92,271.79 125.40,284.25 125.89,286.69 126.37,283.13 126.85,281.36 127.33,270.14 127.81,297.30 128.29,287.93 128.77,286.45 129.26,283.93 129.74,287.42 130.22,287.83 130.70,285.05 131.18,260.22 131.66,267.37 132.14,290.64 132.63,253.78 133.11,275.84 133.59,283.37 134.07,283.69 134.55,282.83 135.03,283.35 135.51,281.24 136.00,281.08 136.48,282.09 136.96,257.20 137.44,287.22 137.92,286.94 138.40,285.10 138.88,284.96 139.37,284.77 139.85,284.60 140.33,283.26 140.81,287.34 141.29,287.37 141.77,282.44 142.25,282.17 142.74,274.09 143.22,281.85 143.70,285.73 144.18,285.50 144.66,287.89 145.14,296.16 145.62,284.34 146.11,294.85 146.59,282.32 147.07,296.47 147.55,296.50 148.03,256.56 148.51,284.32 148.99,266.88 149.48,284.42 149.96,282.51 150.44,282.03 150.92,281.16 151.40,283.57 151.88,281.68 152.36,285.54 152.85,283.09 153.33,283.83 153.81,281.30 154.29,295.13 154.77,296.14 155.25,268.75 155.73,283.23 156.22,285.05 156.70,291.29 157.18,286.88 157.66,281.07 158.14,282.77 158.62,281.94 159.10,286.75 159.59,294.85 160.07,285.52 160.55,285.04 161.03,268.44 161.51,295.72 161.99,283.42 162.47,281.41 162.96,285.99 163.44,282.46 163.92,286.46 164.40,283.89 164.88,283.34 165.36,281.27 165.84,285.30 166.33,264.27 166.81,281.99 167.29,286.77 167.77,284.96 168.25,286.68 168.73,286.63 169.21,293.78 169.70,296.80 170.18,281.06 170.66,281.22 171.14,281.35 171.62,283.94 172.10,285.14 172.58,284.18 173.07,288.01 173.55,267.79 174.03,290.37 174.51,287.11 174.99,286.22 175.47,282.59 175.95,281.60 176.44,284.72 176.92,253.78 177.40,284.62 177.88,267.87 178.36,257.20 178.84,285.40 179.32,293.19 179.81,260.22 180.29,295.07 180.77,287.06 181.25,295.56 181.73,296.31 182.21,296.39 182.69,253.78 183.18,300.56 183.66,297.01 184.14,287.43 184.62,301.31 185.10,300.46 185.58,297.40 186.06,304.29 186.55,301.22 187.03,306.55 187.51,303.05 187.99,305.67 188.47,309.76 188.95,306.00 189.43,308.08 189.92,309.08 190.40,310.60 190.88,310.03 191.36,276.10 191.84,308.14 192.32,306.13 192.80,310.78 193.29,309.82 193.77,306.19 194.25,307.49 194.73,307.28 195.21,305.59 195.69,306.89 196.17,307.04 196.66,308.26 197.14,305.54 197.62,305.81 198.10,309.54 198.58,307.35 199.06,310.73 199.54,306.52 200.03,273.53 200.51,308.45 200.99,309.46 201.47,311.51 201.95,307.53 202.43,308.58 202.91,309.28 203.40,306.94 203.88,309.77 204.36,310.11 204.84,310.38 205.32,311.28 205.80,305.41 206.28,307.94 206.77,309.26 207.25,306.61 207.73,311.71 208.21,310.00 208.69,308.80 209.17,310.67 209.65,307.87 210.14,311.56 210.62,309.50 211.10,288.12 211.58,311.60 212.06,311.53 212.54,309.92 213.02,309.02 213.51,310.27 213.99,308.22 214.47,308.10 214.95,311.21 215.43,309.74 215.91,311.28 216.39,311.68 216.88,311.72 217.36,307.86 217.84,309.09 218.32,305.57 218.80,311.05 219.28,310.30 219.76,308.48 220.25,309.28 220.73,307.84 221.21,288.12 221.69,310.29 222.17,311.69 222.65,311.38 223.13,306.02 223.62,306.58 224.10,305.84 224.58,309.62 225.06,309.56 225.54,310.83 226.02,308.43 226.50,308.67 226.99,307.74 227.47,305.60 227.95,309.99 228.43,307.33 228.91,311.21 229.39,306.88 229.87,309.53 230.36,309.18 230.84,308.58 231.32,305.73 231.80,308.10 232.28,309.84 232.76,285.97 233.24,308.77 233.73,310.55 234.21,310.25 234.69,309.18 235.17,307.28 235.65,310.06 236.13,307.47 236.61,305.60 237.10,310.80 237.58,306.35 238.06,305.42 238.54,309.00 239.02,307.36 239.50,310.87 239.98,308.50 240.47,309.39 240.95,308.12 241.43,310.37 241.91,310.53 242.39,310.01 242.87,310.31 243.35,310.22 243.84,309.46 244.32,310.68 244.80,309.50 245.28,307.76 245.76,311.13 246.24,309.21 246.72,310.18 247.21,310.70 247.69,310.89 248.17,310.59 248.65,310.38 249.13,308.35 249.61,310.61 250.09,292.12 250.58,309.91 251.06,307.46 251.54,306.33 252.02,291.82 252.50,306.81 252.98,305.51 253.46,308.47 253.95,307.25 254.43,308.48 254.91,293.27 255.39,308.74 255.87,309.41 256.35,307.07 256.83,306.42 257.32,307.85 257.80,305.83 258.28,305.95 258.76,306.40 259.24,309.21 259.72,305.68 260.20,305.74 260.69,310.51 261.17,310.31 261.65,309.54 262.13,306.65 262.61,305.92 263.09,308.10 263.57,307.58 264.06,306.68 264.54,309.90 265.02,307.33 265.50,308.49 265.98,307.75 266.46,308.05 266.94,309.89 267.43,309.92 267.91,308.38 268.39,307.81 268.87,308.44 269.35,304.56 269.83,307.20 270.31,311.25 270.80,308.89 271.28,307.41 271.76,306.85 272.24,300.73 272.72,296.79 273.20,300.51 273.68,301.62 274.17,305.77 274.65,300.99 275.13,306.10 275.61,293.14 276.09,310.34 276.57,306.29 277.05,289.51 277.54,304.16 278.02,299.30 278.50,298.90 278.98,299.70 279.46,304.25 279.94,301.51 280.42,303.62 280.91,308.52 281.39,306.68 281.87,292.68 282.35,309.14 282.83,300.36 283.31,307.33 283.79,308.65 284.28,302.71 284.76,308.75 285.24,311.27 285.72,310.81 286.20,304.35 286.68,303.49 287.16,303.71 287.65,307.82 288.13,310.44 288.61,302.19 289.09,292.82 289.57,308.24 290.05,311.62 290.53,309.25 291.02,307.30 291.50,300.55 291.98,312.72 292.46,301.64 292.94,309.34 293.42,304.88 293.90,297.07 294.39,308.79 294.87,306.81 295.35,303.31 295.83,305.85 296.31,309.42 296.79,305.44 297.27,305.01 297.76,311.70 298.24,300.82 298.72,303.33 299.20,312.63 299.68,311.28 300.16,299.84 300.64,299.27 301.13,302.34 301.61,311.84 302.09,308.48 302.57,301.15 303.05,302.60 303.53,306.75 304.01,309.50 304.50,302.21 304.98,305.99 305.46,303.92 305.94,302.72 306.42,299.39 306.90,302.80 307.38,303.61 307.87,312.08 308.35,301.79 308.83,300.82 309.31,304.50 309.79,312.57 310.27,310.38 310.75,306.26 311.24,293.27 311.72,301.03 312.20,301.08 312.68,301.02 313.16,299.83 313.64,309.72 314.12,293.23 314.61,311.49 315.09,308.59 315.57,308.14 316.05,305.67 316.53,310.50 317.01,306.34 317.49,309.98 317.98,299.54 318.46,306.53 318.94,299.30 319.42,299.46 319.90,309.59 320.38,302.04 320.86,302.19 321.35,311.53 321.83,304.15 322.31,306.00 322.79,304.12 323.27,309.69 323.75,307.05 324.23,304.04 324.72,306.49 325.20,309.06 325.68,307.42 326.16,310.63 326.64,305.28 327.12,312.70 327.60,301.60 328.09,304.66 328.57,303.43 329.05,301.77 329.53,310.70 330.01,299.89 330.49,309.45 330.97,304.43 331.46,304.13 331.94,300.77 332.42,304.75 332.90,311.54 333.38,305.86 333.86,312.68 334.34,309.45 334.83,309.07 335.31,300.80 335.79,306.16 336.27,308.42 336.75,310.09 337.23,310.70 337.71,309.78 338.20,304.10 338.68,311.29 339.16,308.52 339.64,278.46 340.12,308.65 340.60,306.01 341.08,311.29 341.57,280.39 342.05,306.69 342.53,302.97 343.01,301.87 343.49,305.90 343.97,310.66 344.45,286.51 344.94,304.49 345.42,301.13 345.90,303.47 346.38,300.84 346.86,307.09 347.34,308.52 347.82,301.20 348.31,309.78 348.79,285.97 349.27,304.33 349.75,305.39 350.23,300.88 350.71,309.04 351.19,309.09 351.68,312.61 352.16,311.91 352.64,310.18 353.12,309.18 353.60,308.15 354.08,305.54 354.56,309.49 355.05,312.56 355.53,307.97 356.01,304.98 356.49,311.07 356.97,310.84 357.45,301.41 357.93,301.81 358.42,301.79 358.90,302.85 359.38,305.21 359.86,308.81 360.34,304.58 360.82,307.28 361.30,308.90 361.79,307.30 362.27,307.30 362.75,303.20 363.23,310.18 363.71,301.01 364.19,309.27 364.67,309.25 365.16,303.38 365.64,309.79 366.12,309.59 366.60,307.34" stroke="#ff0000"/>
</g>
<rect x="29.6" y="198.3" width="337.0" height="126.30000000000001" fill="none" stroke="#b3b3b3" stroke-width="1"/>
<line x1="29.60" y1="324.6" x2="29.60" y2="326.1" stroke="#b3b3b3" stroke-width="0.8"/>
<text x="29.75" y="334.20" font-size="9.3" text-anchor="middle" font-family="'DejaVu Sans', 'Liberation Sans', sans-serif" fill="#262626" letter-spacing="-0.3">0</text>
<line x1="77.74" y1="324.6" x2="77.74" y2="326.1" stroke="#b3b3b3" stroke-width="0.8"/>
<text x="77.89" y="334.20" font-size="9.3" text-anchor="middle" font-family="'DejaVu Sans', 'Liberation Sans', sans-serif" fill="#262626" letter-spacing="-0.3">100</text>
<line x1="125.89" y1="324.6" x2="125.89" y2="326.1" stroke="#b3b3b3" stroke-width="0.8"/>
<text x="126.04" y="334.20" font-size="9.3" text-anchor="middle" font-family="'DejaVu Sans', 'Liberation Sans', sans-serif" fill="#262626" letter-spacing="-0.3">200</text>
<line x1="174.03" y1="324.6" x2="174.03" y2="326.1" stroke="#b3b3b3" stroke-width="0.8"/>
<text x="174.18" y="334.20" font-size="9.3" text-anchor="middle" font-family="'DejaVu Sans', 'Liberation Sans', sans-serif" fill="#262626" letter-spacing="-0.3">300</text>
<line x1="222.17" y1="324.6" x2="222.17" y2="326.1" stroke="#b3b3b3" stroke-width="0.8"/>
<text x="222.32" y="334.20" font-size="9.3" text-anchor="middle" font-family="'DejaVu Sans', 'Liberation Sans', sans-serif" fill="#262626" letter-spacing="-0.3">400</text>
<line x1="270.31" y1="324.6" x2="270.31" y2="326.1" stroke="#b3b3b3" stroke-width="0.8"/>
<text x="270.46" y="334.20" font-size="9.3" text-anchor="middle" font-family="'DejaVu Sans', 'Liberation Sans', sans-serif" fill="#262626" letter-spacing="-0.3">500</text>
<line x1="318.46" y1="324.6" x2="318.46" y2="326.1" stroke="#b3b3b3" stroke-width="0.8"/>
<text x="318.61" y="334.20" font-size="9.3" text-anchor="middle" font-family="'DejaVu Sans', 'Liberation Sans', sans-serif" fill="#262626" letter-spacing="-0.3">600</text>
<line x1="366.60" y1="324.6" x2="366.60" y2="326.1" stroke="#b3b3b3" stroke-width="0.8"/>
<text x="366.75" y="334.20" font-size="9.3" text-anchor="middle" font-family="'DejaVu Sans', 'Liberation Sans', sans-serif" fill="#262626" letter-spacing="-0.3">700</text>
<line x1="28.1" y1="324.60" x2="29.6" y2="324.60" stroke="#b3b3b3" stroke-width="0.8"/>
<text x="27.1" y="328.00" font-size="9.3" text-anchor="end" font-family="'DejaVu Sans', 'Liberation Sans', sans-serif" fill="#262626" letter-spacing="-0.3">0</text>
<line x1="28.1" y1="303.14" x2="29.6" y2="303.14" stroke="#b3b3b3" stroke-width="0.8"/>
<text x="27.1" y="306.54" font-size="9.3" text-anchor="end" font-family="'DejaVu Sans', 'Liberation Sans', sans-serif" fill="#262626" letter-spacing="-0.3">10</text>
<line x1="28.1" y1="281.68" x2="29.6" y2="281.68" stroke="#b3b3b3" stroke-width="0.8"/>
<text x="27.1" y="285.08" font-size="9.3" text-anchor="end" font-family="'DejaVu Sans', 'Liberation Sans', sans-serif" fill="#262626" letter-spacing="-0.3">20</text>
<line x1="28.1" y1="260.22" x2="29.6" y2="260.22" stroke="#b3b3b3" stroke-width="0.8"/>
<text x="27.1" y="263.62" font-size="9.3" text-anchor="end" font-family="'DejaVu Sans', 'Liberation Sans', sans-serif" fill="#262626" letter-spacing="-0.3">30</text>
<line x1="28.1" y1="238.76" x2="29.6" y2="238.76" stroke="#b3b3b3" stroke-width="0.8"/>
<text x="27.1" y="242.16" font-size="9.3" text-anchor="end" font-family="'DejaVu Sans', 'Liberation Sans', sans-serif" fill="#262626" letter-spacing="-0.3">40</text>
<line x1="28.1" y1="217.30" x2="29.6" y2="217.30" stroke="#b3b3b3" stroke-width="0.8"/>
<text x="27.1" y="220.70" font-size="9.3" text-anchor="end" font-family="'DejaVu Sans', 'Liberation Sans', sans-serif" fill="#262626" letter-spacing="-0.3">50</text>
<text x="198.10" y="196.10" font-size="9.3" text-anchor="middle" font-family="'DejaVu Sans', 'Liberation Sans', sans-serif" fill="#262626" >V-graph update consumption</text>
<text x="198.10" y="344.40" font-size="9.3" text-anchor="middle" font-family="'DejaVu Sans', 'Liberation Sans', sans-serif" fill="#262626" >Number</text>
<text x="0" y="0" font-size="9.3" text-anchor="middle" font-family="'DejaVu Sans', 'Liberation Sans', sans-serif" fill="#262626" transform="translate(12.70,261.45) rotate(-90)">V-graph update time [ms]</text>
<rect x="289.7" y="202.3" width="73.80000000000001" height="23.5" rx="1.5" fill="#ffffff" fill-opacity="0.8" stroke="#d9d9d9" stroke-width="0.6"/>
<line x1="292.9" y1="208.3" x2="308.4" y2="208.3" stroke="#0000ff" stroke-width="0.8"/>
<line x1="292.9" y1="219.4" x2="308.4" y2="219.4" stroke="#ff0000" stroke-width="0.8"/>
<text x="314.90" y="211.10" font-size="7.6" text-anchor="start" font-family="'DejaVu Sans', 'Liberation Sans', sans-serif" fill="#262626" >FAR Planner</text>
<text x="314.90" y="222.20" font-size="7.6" text-anchor="start" font-family="'DejaVu Sans', 'Liberation Sans', sans-serif" fill="#262626" >OURS</text>
<text x="98.40" y="361.10" font-size="9.1" text-anchor="start" font-family="'Liberation Serif', serif" fill="#111" textLength="180.1" lengthAdjust="spacingAndGlyphs"><tspan font-weight="bold" font-size="10.4">(b)</tspan><tspan dx="1.2">V-graph update time in the physical experiment</tspan></text>
<line x1="38.30" y1="386.2" x2="38.30" y2="508.2" stroke="#e6e6e6" stroke-width="0.8"/>
<line x1="103.98" y1="386.2" x2="103.98" y2="508.2" stroke="#e6e6e6" stroke-width="0.8"/>
<line x1="169.66" y1="386.2" x2="169.66" y2="508.2" stroke="#e6e6e6" stroke-width="0.8"/>
<line x1="235.34" y1="386.2" x2="235.34" y2="508.2" stroke="#e6e6e6" stroke-width="0.8"/>
<line x1="301.02" y1="386.2" x2="301.02" y2="508.2" stroke="#e6e6e6" stroke-width="0.8"/>
<line x1="366.70" y1="386.2" x2="366.70" y2="508.2" stroke="#e6e6e6" stroke-width="0.8"/>
<line x1="38.3" y1="508.20" x2="366.7" y2="508.20" stroke="#e6e6e6" stroke-width="0.8"/>
<line x1="38.3" y1="445.10" x2="366.7" y2="445.10" stroke="#e6e6e6" stroke-width="0.8"/>
<clipPath id="c3"><rect x="38.3" y="386.2" width="328.4" height="122.0"/></clipPath>
<g clip-path="url(#c3)" fill="none" stroke-width="0.8" stroke-linejoin="round">
<polyline points="38.30,501.01 38.96,489.34 39.61,476.91 40.27,466.66 40.93,456.92 41.58,457.40 42.24,458.14 42.90,458.50 43.55,460.19 44.21,461.86 44.87,465.32 45.52,471.10 46.18,474.51 46.84,475.90 47.50,475.13 48.15,477.47 48.81,475.52 49.47,472.36 50.12,467.27 50.78,462.24 51.44,433.09 52.09,455.46 52.75,456.29 53.41,458.23 54.06,455.57 54.72,453.59 55.38,460.14 56.03,470.05 56.69,482.25 57.35,472.38 58.00,466.90 58.66,462.76 59.32,461.44 59.97,462.45 60.63,465.99 61.29,464.35 61.94,466.52 62.60,467.60 63.26,462.17 63.92,466.15 64.57,456.49 65.23,455.87 65.89,467.52 66.54,461.86 67.20,466.06 67.86,452.26 68.51,441.63 69.17,447.04 69.83,447.27 70.48,448.13 71.14,443.20 71.80,449.56 72.45,444.42 73.11,449.63 73.77,448.53 74.42,449.82 75.08,442.24 75.74,442.89 76.39,440.26 77.05,441.53 77.71,441.90 78.36,442.03 79.02,447.12 79.68,446.74 80.34,441.84 80.99,446.20 81.65,445.44 82.31,446.04 82.96,443.83 83.62,446.27 84.28,445.77 84.93,443.11 85.59,443.17 86.25,448.07 86.90,440.51 87.56,449.16 88.22,450.47 88.87,450.94 89.53,441.22 90.19,444.87 90.84,448.80 91.50,450.18 92.16,443.50 92.81,448.81 93.47,450.52 94.13,442.44 94.78,449.12 95.44,446.91 96.10,441.80 96.76,441.39 97.41,436.68 98.07,426.05 98.73,436.08 99.38,444.01 100.04,446.82 100.70,441.63 101.35,439.85 102.01,434.31 102.67,438.54 103.32,439.82 103.98,441.83 104.64,441.09 105.29,435.62 105.95,438.25 106.61,435.15 107.26,423.82 107.92,427.27 108.58,458.25 109.23,470.60 109.89,460.30 110.55,455.53 111.20,439.22 111.86,441.61 112.52,445.70 113.18,446.60 113.83,447.95 114.49,443.72 115.15,437.35 115.80,441.79 116.46,439.47 117.12,434.72 117.77,443.67 118.43,440.85 119.09,442.56 119.74,445.67 120.40,446.25 121.06,443.52 121.71,440.96 122.37,443.82 123.03,442.73 123.68,440.44 124.34,441.26 125.00,440.23 125.65,435.25 126.31,429.93 126.97,408.52 127.62,427.66 128.28,431.08 128.94,429.23 129.60,437.79 130.25,437.13 130.91,430.37 131.57,429.42 132.22,426.08 132.88,430.82 133.54,440.57 134.19,426.65 134.85,426.64 135.51,437.42 136.16,440.41 136.82,454.00 137.48,456.52 138.13,455.86 138.79,455.70 139.45,452.89 140.10,455.16 140.76,455.13 141.42,447.91 142.07,441.27 142.73,444.08 143.39,438.94 144.04,432.67 144.70,433.14 145.36,442.09 146.02,445.14 146.67,440.05 147.33,442.84 147.99,443.21 148.64,446.63 149.30,431.46 149.96,443.53 150.61,457.75 151.27,456.03 151.93,455.30 152.58,458.85 153.24,454.01 153.90,431.38 154.55,443.27 155.21,445.45 155.87,446.83 156.52,446.54 157.18,439.11 157.84,438.24 158.49,444.93 159.15,451.07 159.81,438.47 160.46,448.54 161.12,451.00 161.78,448.46 162.44,445.05 163.09,441.51 163.75,443.60 164.41,452.39 165.06,446.44 165.72,446.40 166.38,439.37 167.03,445.17 167.69,456.55 168.35,457.86 169.00,442.87 169.66,451.63 170.32,460.22 170.97,457.06 171.63,451.46 172.29,441.10 172.94,452.88 173.60,444.12 174.26,440.67 174.91,449.83 175.57,448.67 176.23,436.24 176.88,434.64 177.54,435.92 178.20,439.11 178.86,435.67 179.51,441.87 180.17,443.63 180.83,449.22 181.48,444.83 182.14,443.87 182.80,430.77 183.45,437.50 184.11,432.69 184.77,431.39 185.42,438.81 186.08,432.63 186.74,451.62 187.39,444.28 188.05,434.98 188.71,451.94 189.36,450.96 190.02,435.73 190.68,440.46 191.33,447.62 191.99,444.79 192.65,444.90 193.30,434.55 193.96,433.48 194.62,439.04 195.28,443.64 195.93,439.98 196.59,428.24 197.25,417.88 197.90,430.06 198.56,436.12 199.22,446.43 199.87,445.48 200.53,434.36 201.19,435.45 201.84,443.94 202.50,448.77 203.16,441.03 203.81,441.24 204.47,441.40 205.13,441.30 205.78,436.21 206.44,434.64 207.10,429.56 207.75,428.63 208.41,426.84 209.07,428.42 209.72,437.09 210.38,437.91 211.04,433.79 211.70,439.02 212.35,433.76 213.01,428.88 213.67,441.01 214.32,448.65 214.98,433.04 215.64,436.24 216.29,432.16 216.95,445.60 217.61,428.91 218.26,430.08 218.92,436.30 219.58,440.26 220.23,437.87 220.89,439.34 221.55,440.63 222.20,446.18 222.86,431.93 223.52,436.51 224.17,437.19 224.83,437.28 225.49,449.21 226.14,439.35 226.80,440.63 227.46,440.53 228.12,437.79 228.77,443.54 229.43,433.25 230.09,440.33 230.74,443.01 231.40,443.23 232.06,437.37 232.71,431.50 233.37,438.11 234.03,443.51 234.68,431.60 235.34,440.10 236.00,429.41 236.65,433.09 237.31,437.91 237.97,438.64 238.62,432.54 239.28,428.35 239.94,432.93 240.59,427.80 241.25,423.94 241.91,429.81 242.56,438.50 243.22,439.82 243.88,440.98 244.54,438.91 245.19,438.35 245.85,440.29 246.51,431.43 247.16,441.58 247.82,440.93 248.48,423.27 249.13,422.78 249.79,424.68 250.45,425.64 251.10,420.60 251.76,423.12 252.42,427.10 253.07,436.96 253.73,432.62 254.39,435.37 255.04,435.84 255.70,406.10 256.36,431.93 257.01,432.57 257.67,424.31 258.33,436.64 258.98,433.09 259.64,420.13 260.30,425.69 260.96,421.39 261.61,420.79 262.27,409.25 262.93,421.92 263.58,436.20 264.24,433.69 264.90,433.60 265.55,439.03 266.21,436.14 266.87,438.53 267.52,439.91 268.18,432.90 268.84,431.18 269.49,434.90 270.15,437.15 270.81,435.79 271.46,434.49 272.12,434.17 272.78,431.77 273.43,433.58 274.09,428.60 274.75,426.32 275.40,426.72 276.06,433.64 276.72,435.23 277.38,428.98 278.03,431.31 278.69,430.85 279.35,440.16 280.00,440.40 280.66,434.43 281.32,429.04 281.97,421.91 282.63,422.89 283.29,425.85 283.94,428.17 284.60,436.91 285.26,426.11 285.91,432.11 286.57,426.58 287.23,426.82 287.88,426.36 288.54,422.63 289.20,429.80 289.85,431.33 290.51,434.27 291.17,432.49 291.82,420.25 292.48,427.46 293.14,421.10 293.80,421.12 294.45,421.49 295.11,421.26 295.77,431.06 296.42,426.01 297.08,419.50 297.74,427.88 298.39,427.17 299.05,430.18 299.71,425.70 300.36,431.08 301.02,420.22 301.68,425.60 302.33,431.98 302.99,418.99 303.65,418.50 304.30,419.74 304.96,419.92 305.62,424.69 306.27,425.28 306.93,419.73 307.59,417.19 308.24,416.22 308.90,419.04 309.56,424.22 310.22,423.91 310.87,415.76 311.53,412.83 312.19,420.05 312.84,423.87 313.50,413.88 314.16,413.81 314.81,413.67 315.47,426.50 316.13,424.38 316.78,424.43 317.44,419.16 318.10,428.59 318.75,413.37 319.41,414.96 320.07,414.54 320.72,425.82 321.38,421.41 322.04,410.90 322.69,426.87 323.35,419.41 324.01,414.07 324.66,422.67 325.32,414.20 325.98,420.07 326.64,411.25 327.29,402.11 327.95,415.50 328.61,408.33 329.26,410.10 329.92,409.24 330.58,424.07 331.23,425.24 331.89,414.97 332.55,411.98 333.20,417.27 333.86,413.25 334.52,425.07 335.17,419.57 335.83,427.09 336.49,419.46 337.14,403.28 337.80,425.10 338.46,420.85 339.11,409.48 339.77,423.12 340.43,424.93 341.08,413.57 341.74,420.88 342.40,409.70 343.06,414.29 343.71,417.28 344.37,416.29 345.03,409.36 345.68,411.68 346.34,413.50 347.00,400.99 347.65,428.61 348.31,428.22 348.97,412.41 349.62,412.14 350.28,413.80 350.94,413.57 351.59,421.99 352.25,417.97 352.91,425.82 353.56,418.85 354.22,424.89 354.88,423.13 355.53,417.52 356.19,421.78 356.85,415.76 357.50,415.44 358.16,416.02 358.82,399.92 359.48,427.21 360.13,430.58 360.79,419.84 361.45,413.53 362.10,409.09 362.76,411.22 363.42,412.00 364.07,424.06 364.73,415.85 365.39,414.24 366.04,426.10 366.70,428.02" stroke="#0000ff"/>
<polyline points="38.30,508.33 38.96,506.59 39.61,508.36 40.27,506.96 40.93,501.47 41.58,497.36 42.24,495.00 42.90,493.07 43.55,493.72 44.21,492.84 44.87,493.01 45.52,496.41 46.18,495.79 46.84,491.75 47.50,493.29 48.15,487.26 48.81,485.75 49.47,484.60 50.12,486.52 50.78,483.78 51.44,489.64 52.09,491.13 52.75,487.70 53.41,484.98 54.06,491.89 54.72,492.52 55.38,486.32 56.03,489.39 56.69,477.72 57.35,478.26 58.00,478.54 58.66,479.26 59.32,475.14 59.97,480.17 60.63,474.05 61.29,481.96 61.94,482.29 62.60,484.98 63.26,477.10 63.92,478.31 64.57,484.18 65.23,470.47 65.89,477.26 66.54,478.51 67.20,475.26 67.86,468.18 68.51,472.69 69.17,468.91 69.83,470.79 70.48,480.75 71.14,468.18 71.80,463.46 72.45,470.35 73.11,471.02 73.77,480.22 74.42,481.20 75.08,478.05 75.74,468.30 76.39,473.92 77.05,469.41 77.71,463.60 78.36,467.58 79.02,465.44 79.68,461.13 80.34,476.38 80.99,466.53 81.65,480.39 82.31,471.29 82.96,469.07 83.62,474.40 84.28,478.68 84.93,473.86 85.59,474.64 86.25,470.86 86.90,477.08 87.56,468.05 88.22,477.17 88.87,474.83 89.53,474.63 90.19,462.37 90.84,478.07 91.50,474.07 92.16,460.47 92.81,467.97 93.47,471.10 94.13,462.96 94.78,462.60 95.44,456.27 96.10,464.68 96.76,460.69 97.41,456.65 98.07,454.25 98.73,464.86 99.38,454.35 100.04,463.84 100.70,467.96 101.35,467.51 102.01,462.33 102.67,463.07 103.32,458.58 103.98,457.02 104.64,457.55 105.29,461.24 105.95,453.00 106.61,467.97 107.26,468.60 107.92,466.71 108.58,467.84 109.23,468.84 109.89,462.45 110.55,455.77 111.20,452.20 111.86,443.15 112.52,436.28 113.18,435.63 113.83,443.64 114.49,442.67 115.15,449.66 115.80,444.54 116.46,448.08 117.12,442.74 117.77,445.82 118.43,448.10 119.09,456.27 119.74,454.11 120.40,476.11 121.06,479.44 121.71,468.67 122.37,472.57 123.03,464.00 123.68,462.40 124.34,463.12 125.00,456.94 125.65,457.99 126.31,459.00 126.97,472.78 127.62,454.29 128.28,460.27 128.94,455.33 129.60,459.15 130.25,454.44 130.91,460.14 131.57,462.03 132.22,463.44 132.88,472.40 133.54,473.50 134.19,470.00 134.85,464.92 135.51,467.24 136.16,448.21 136.82,462.29 137.48,462.58 138.13,447.69 138.79,458.50 139.45,452.50 140.10,451.67 140.76,458.00 141.42,467.83 142.07,469.07 142.73,463.18 143.39,456.08 144.04,468.87 144.70,461.90 145.36,464.11 146.02,452.47 146.67,454.53 147.33,463.08 147.99,462.56 148.64,458.58 149.30,448.46 149.96,446.02 150.61,447.97 151.27,452.54 151.93,450.26 152.58,454.23 153.24,450.55 153.90,451.07 154.55,454.03 155.21,461.31 155.87,455.79 156.52,448.91 157.18,452.33 157.84,446.14 158.49,446.20 159.15,451.73 159.81,444.61 160.46,457.93 161.12,446.18 161.78,443.10 162.44,448.97 163.09,451.48 163.75,444.84 164.41,442.06 165.06,443.97 165.72,445.96 166.38,442.63 167.03,444.91 167.69,456.79 168.35,452.85 169.00,449.90 169.66,458.79 170.32,448.62 170.97,454.16 171.63,443.54 172.29,457.34 172.94,457.09 173.60,458.90 174.26,441.06 174.91,437.47 175.57,436.38 176.23,435.93 176.88,436.52 177.54,436.72 178.20,455.84 178.86,445.72 179.51,449.82 180.17,449.36 180.83,455.78 181.48,437.57 182.14,440.77 182.80,455.47 183.45,443.47 184.11,444.87 184.77,453.62 185.42,450.30 186.08,453.02 186.74,458.01 187.39,457.73 188.05,446.58 188.71,442.15 189.36,441.58 190.02,453.83 190.68,452.88 191.33,446.99 191.99,439.18 192.65,450.77 193.30,454.52 193.96,437.87 194.62,441.75 195.28,447.28 195.93,451.67 196.59,452.12 197.25,434.15 197.90,433.85 198.56,444.23 199.22,453.96 199.87,434.14 200.53,432.16 201.19,432.49 201.84,433.78 202.50,454.86 203.16,455.65 203.81,443.70 204.47,446.75 205.13,442.46 205.78,448.59 206.44,451.21 207.10,441.14 207.75,447.08 208.41,445.06 209.07,441.95 209.72,441.27 210.38,434.36 211.04,432.61 211.70,451.55 212.35,449.02 213.01,451.26 213.67,439.36 214.32,452.03 214.98,439.48 215.64,436.72 216.29,436.85 216.95,450.68 217.61,448.26 218.26,453.75 218.92,443.85 219.58,435.96 220.23,453.86 220.89,453.69 221.55,449.05 222.20,450.41 222.86,434.20 223.52,441.86 224.17,441.07 224.83,452.68 225.49,434.43 226.14,438.87 226.80,435.44 227.46,439.84 228.12,456.16 228.77,456.41 229.43,456.02 230.09,443.87 230.74,448.17 231.40,439.25 232.06,437.88 232.71,437.67 233.37,431.15 234.03,435.68 234.68,454.48 235.34,452.39 236.00,412.38 236.65,447.41 237.31,431.36 237.97,429.65 238.62,440.58 239.28,437.62 239.94,449.76 240.59,437.31 241.25,446.13 241.91,450.52 242.56,447.38 243.22,446.47 243.88,447.07 244.54,441.01 245.19,442.23 245.85,446.52 246.51,434.63 247.16,429.13 247.82,433.80 248.48,444.47 249.13,448.98 249.79,438.42 250.45,442.22 251.10,440.97 251.76,451.62 252.42,451.12 253.07,451.00 253.73,436.85 254.39,441.85 255.04,452.08 255.70,413.23 256.36,432.68 257.01,428.24 257.67,445.65 258.33,439.53 258.98,430.44 259.64,429.48 260.30,435.32 260.96,445.03 261.61,442.20 262.27,440.04 262.93,432.29 263.58,429.75 264.24,435.48 264.90,429.23 265.55,441.24 266.21,441.93 266.87,437.80 267.52,431.61 268.18,436.78 268.84,427.53 269.49,429.70 270.15,440.73 270.81,436.40 271.46,441.95 272.12,443.43 272.78,445.02 273.43,429.14 274.09,427.58 274.75,443.47 275.40,429.86 276.06,427.51 276.72,435.42 277.38,431.44 278.03,425.00 278.69,428.36 279.35,430.00 280.00,426.92 280.66,440.40 281.32,444.57 281.97,445.59 282.63,440.57 283.29,430.38 283.94,440.85 284.60,445.28 285.26,437.91 285.91,439.34 286.57,431.80 287.23,435.49 287.88,437.11 288.54,436.76 289.20,435.63 289.85,443.05 290.51,445.28 291.17,427.53 291.82,424.78 292.48,424.82 293.14,442.39 293.80,436.66 294.45,426.31 295.11,442.50 295.77,439.84 296.42,438.02 297.08,440.28 297.74,440.07 298.39,426.50 299.05,433.06 299.71,433.02 300.36,421.42 301.02,432.60 301.68,440.03 302.33,428.80 302.99,418.99 303.65,422.38 304.30,423.74 304.96,436.51 305.62,437.13 306.27,419.23 306.93,416.90 307.59,418.45 308.24,429.49 308.90,436.51 309.56,437.05 310.22,437.59 310.87,423.99 311.53,432.35 312.19,431.96 312.84,419.72 313.50,416.45 314.16,420.94 314.81,417.90 315.47,421.67 316.13,437.49 316.78,430.18 317.44,429.75 318.10,428.80 318.75,421.71 319.41,428.82 320.07,411.97 320.72,420.93 321.38,420.19 322.04,403.28 322.69,423.29 323.35,415.66 324.01,412.89 324.66,413.15 325.32,427.59 325.98,433.04 326.64,432.17 327.29,425.90 327.95,436.93 328.61,435.31 329.26,435.88 329.92,433.80 330.58,434.47 331.23,418.07 331.89,416.60 332.55,411.96 333.20,429.86 333.86,432.51 334.52,429.26 335.17,410.09 335.83,408.30 336.49,422.64 337.14,415.99 337.80,408.08 338.46,426.36 339.11,425.91 339.77,411.47 340.43,412.26 341.08,429.61 341.74,402.11 342.40,410.61 343.06,412.14 343.71,431.49 344.37,427.25 345.03,411.67 345.68,414.03 346.34,412.52 347.00,421.93 347.65,410.08 348.31,420.08 348.97,413.00 349.62,416.01 350.28,430.19 350.94,411.40 351.59,430.99 352.25,403.88 352.91,424.11 353.56,434.21 354.22,436.06 354.88,430.16 355.53,429.09 356.19,427.33 356.85,418.63 357.50,408.59 358.16,419.34 358.82,408.51 359.48,413.15 360.13,420.30 360.79,436.02 361.45,435.80 362.10,426.98 362.76,418.17 363.42,429.42 364.07,421.67 364.73,413.94 365.39,425.63 366.04,434.63 366.70,433.96" stroke="#ff0000"/>
</g>
<rect x="38.3" y="386.2" width="328.4" height="122.0" fill="none" stroke="#b3b3b3" stroke-width="1"/>
<line x1="38.30" y1="508.2" x2="38.30" y2="509.7" stroke="#b3b3b3" stroke-width="0.8"/>
<text x="38.45" y="518.50" font-size="9.3" text-anchor="middle" font-family="'DejaVu Sans', 'Liberation Sans', sans-serif" fill="#262626" letter-spacing="-0.3">0</text>
<line x1="103.98" y1="508.2" x2="103.98" y2="509.7" stroke="#b3b3b3" stroke-width="0.8"/>
<text x="104.13" y="518.50" font-size="9.3" text-anchor="middle" font-family="'DejaVu Sans', 'Liberation Sans', sans-serif" fill="#262626" letter-spacing="-0.3">100</text>
<line x1="169.66" y1="508.2" x2="169.66" y2="509.7" stroke="#b3b3b3" stroke-width="0.8"/>
<text x="169.81" y="518.50" font-size="9.3" text-anchor="middle" font-family="'DejaVu Sans', 'Liberation Sans', sans-serif" fill="#262626" letter-spacing="-0.3">200</text>
<line x1="235.34" y1="508.2" x2="235.34" y2="509.7" stroke="#b3b3b3" stroke-width="0.8"/>
<text x="235.49" y="518.50" font-size="9.3" text-anchor="middle" font-family="'DejaVu Sans', 'Liberation Sans', sans-serif" fill="#262626" letter-spacing="-0.3">300</text>
<line x1="301.02" y1="508.2" x2="301.02" y2="509.7" stroke="#b3b3b3" stroke-width="0.8"/>
<text x="301.17" y="518.50" font-size="9.3" text-anchor="middle" font-family="'DejaVu Sans', 'Liberation Sans', sans-serif" fill="#262626" letter-spacing="-0.3">400</text>
<line x1="366.70" y1="508.2" x2="366.70" y2="509.7" stroke="#b3b3b3" stroke-width="0.8"/>
<text x="366.85" y="518.50" font-size="9.3" text-anchor="middle" font-family="'DejaVu Sans', 'Liberation Sans', sans-serif" fill="#262626" letter-spacing="-0.3">500</text>
<line x1="36.8" y1="508.20" x2="38.3" y2="508.20" stroke="#b3b3b3" stroke-width="0.8"/>
<text x="26.30" y="512.30" font-size="9.3" text-anchor="end" font-family="'DejaVu Sans', 'Liberation Sans', sans-serif" fill="#262626" letter-spacing="-0.5">10</text><text x="25.20" y="508.70" font-size="6.51" text-anchor="start" font-family="'DejaVu Sans', 'Liberation Sans', sans-serif" fill="#262626">−1</text>
<line x1="36.8" y1="445.10" x2="38.3" y2="445.10" stroke="#b3b3b3" stroke-width="0.8"/>
<text x="31.90" y="448.60" font-size="9.3" text-anchor="end" font-family="'DejaVu Sans', 'Liberation Sans', sans-serif" fill="#262626" letter-spacing="-0.5">10</text><text x="32.20" y="444.50" font-size="6.51" text-anchor="start" font-family="'DejaVu Sans', 'Liberation Sans', sans-serif" fill="#262626">0</text>
<line x1="37.3" y1="489.21" x2="38.3" y2="489.21" stroke="#b3b3b3" stroke-width="0.6"/>
<line x1="37.3" y1="478.09" x2="38.3" y2="478.09" stroke="#b3b3b3" stroke-width="0.6"/>
<line x1="37.3" y1="470.21" x2="38.3" y2="470.21" stroke="#b3b3b3" stroke-width="0.6"/>
<line x1="37.3" y1="464.09" x2="38.3" y2="464.09" stroke="#b3b3b3" stroke-width="0.6"/>
<line x1="37.3" y1="459.10" x2="38.3" y2="459.10" stroke="#b3b3b3" stroke-width="0.6"/>
<line x1="37.3" y1="454.87" x2="38.3" y2="454.87" stroke="#b3b3b3" stroke-width="0.6"/>
<line x1="37.3" y1="451.22" x2="38.3" y2="451.22" stroke="#b3b3b3" stroke-width="0.6"/>
<line x1="37.3" y1="447.99" x2="38.3" y2="447.99" stroke="#b3b3b3" stroke-width="0.6"/>
<line x1="37.3" y1="426.11" x2="38.3" y2="426.11" stroke="#b3b3b3" stroke-width="0.6"/>
<line x1="37.3" y1="414.99" x2="38.3" y2="414.99" stroke="#b3b3b3" stroke-width="0.6"/>
<line x1="37.3" y1="407.11" x2="38.3" y2="407.11" stroke="#b3b3b3" stroke-width="0.6"/>
<line x1="37.3" y1="400.99" x2="38.3" y2="400.99" stroke="#b3b3b3" stroke-width="0.6"/>
<line x1="37.3" y1="396.00" x2="38.3" y2="396.00" stroke="#b3b3b3" stroke-width="0.6"/>
<line x1="37.3" y1="391.77" x2="38.3" y2="391.77" stroke="#b3b3b3" stroke-width="0.6"/>
<line x1="37.3" y1="388.12" x2="38.3" y2="388.12" stroke="#b3b3b3" stroke-width="0.6"/>
<text x="202.50" y="383.70" font-size="9.3" text-anchor="middle" font-family="'DejaVu Sans', 'Liberation Sans', sans-serif" fill="#262626" >Path search time</text>
<text x="202.50" y="528.80" font-size="9.3" text-anchor="middle" font-family="'DejaVu Sans', 'Liberation Sans', sans-serif" fill="#262626" >Number</text>
<text x="0" y="0" font-size="9.3" text-anchor="middle" font-family="'DejaVu Sans', 'Liberation Sans', sans-serif" fill="#262626" transform="translate(11.50,447.20) rotate(-90)">Path search time [ms]</text>
<rect x="292.2" y="390.1" width="71.40000000000003" height="23.899999999999977" rx="1.5" fill="#ffffff" fill-opacity="0.8" stroke="#d9d9d9" stroke-width="0.6"/>
<line x1="294.7" y1="395.4" x2="310.3" y2="395.4" stroke="#0000ff" stroke-width="0.8"/>
<line x1="294.7" y1="406.4" x2="310.3" y2="406.4" stroke="#ff0000" stroke-width="0.8"/>
<text x="315.80" y="398.20" font-size="7.6" text-anchor="start" font-family="'DejaVu Sans', 'Liberation Sans', sans-serif" fill="#262626" >FAR Planner</text>
<text x="315.80" y="409.20" font-size="7.6" text-anchor="start" font-family="'DejaVu Sans', 'Liberation Sans', sans-serif" fill="#262626" >OURS</text>
<text x="106.80" y="545.10" font-size="9.1" text-anchor="start" font-family="'Liberation Serif', serif" fill="#111" textLength="164.0" lengthAdjust="spacingAndGlyphs"><tspan font-weight="bold" font-size="10.4">(c)</tspan><tspan dx="1.2">Path search time in the physical experiment</tspan></text>
</svg>
</body></html>
